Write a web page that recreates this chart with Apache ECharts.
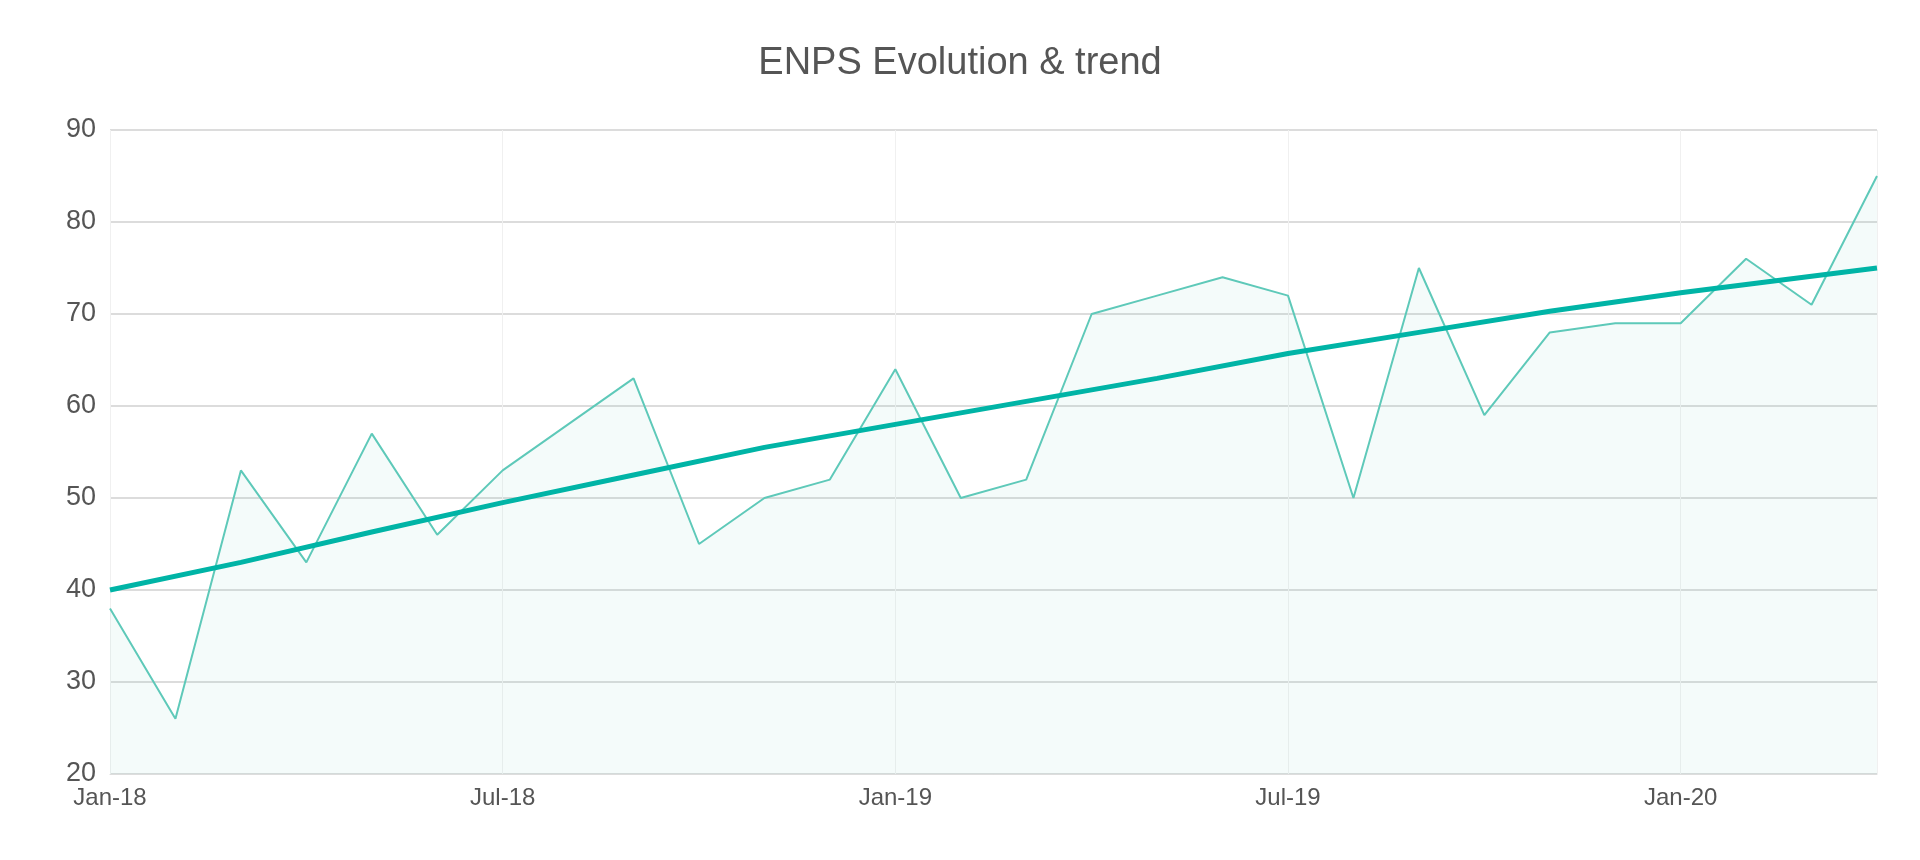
<!DOCTYPE html>
<html>
<head>
<meta charset="utf-8">
<script src="https://cdn.jsdelivr.net/npm/echarts@6/dist/echarts.min.js"></script>
<style>html,body{margin:0;padding:0;background:#fff}#chart{width:1920px;height:860px}</style>
</head>
<body>
<div id="chart"></div>
<script>
var months = ['Jan-18','Feb-18','Mar-18','Apr-18','May-18','Jun-18','Jul-18','Aug-18','Sep-18','Oct-18','Nov-18','Dec-18',
              'Jan-19','Feb-19','Mar-19','Apr-19','May-19','Jun-19','Jul-19','Aug-19','Sep-19','Oct-19','Nov-19','Dec-19',
              'Jan-20','Feb-20','Mar-20','Apr-20'];
var enps = [38,26,53,43,57,46,53,58,63,45,50,52,64,50,52,70,72,74,72,50,75,59,68,69,69,76,71,85];
// trend every other month, joined across the gaps
var trend = [40,null,43,null,46.3,null,49.5,null,52.5,null,55.5,null,58,null,60.5,null,63,null,65.7,null,68,null,70.3,null,72.3,null,null,75];
var shownLabels = ['Jan-18','Jul-18','Jan-19','Jul-19','Jan-20'];

var myChart = echarts.init(document.getElementById('chart'));
var option = {
    animation: false,
    title: {
        text: 'ENPS Evolution & trend',
        left: 'center',
        top: 40,
        textStyle: {fontFamily: 'Liberation Sans', fontSize: 38, fontWeight: 'normal', color: '#555'}
    },
    grid: {left: 110, right: 43, top: 130, bottom: 86},
    xAxis: {
        type: 'category',
        data: months,
        boundaryGap: false,
        axisLine: {lineStyle: {color: '#ddd'}},
        axisTick: {show: false},
        axisLabel: {
            interval: 0,
            fontFamily: 'Liberation Sans', fontSize: 24, color: '#555', margin: 12,
            formatter: function(v){ return shownLabels.indexOf(v) >= 0 ? v : ''; }
        },
        splitLine: {show: true, interval: 5, lineStyle: {color: '#f0f0f0'}}
    },
    yAxis: {
        type: 'value',
        min: 20, max: 90, interval: 10,
        axisLine: {show: false},
        axisTick: {show: false},
        axisLabel: {fontFamily: 'Liberation Sans', fontSize: 27, color: '#555', margin: 14},
        splitLine: {lineStyle: {color: '#dcdcdc', width: 2}}
    },
    series: [
        {
            name: 'ENPS', type: 'line', data: enps, symbol: 'none',
            lineStyle: {color: '#5ec9b9', width: 2},
            areaStyle: {color: 'rgba(94,201,185,0.1)'}
        },
        {
            name: 'Trend', type: 'line', data: trend, symbol: 'none', connectNulls: true,
            lineStyle: {color: '#00b4a6', width: 5}
        }
    ]
};
myChart.setOption(option);
</script>
</body>
</html>
